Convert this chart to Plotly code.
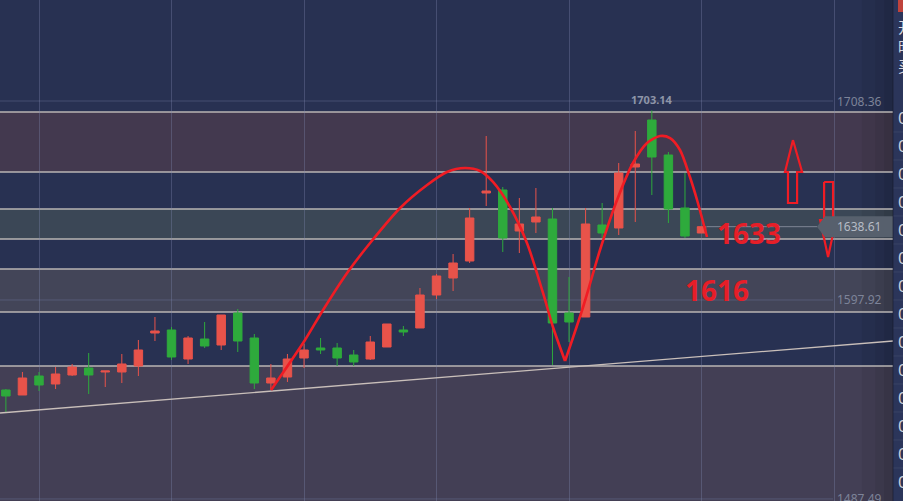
import plotly.graph_objects as go

# ---------------- data ----------------
candle_index = list(range(43))
open_ = [1547.97, 1545.19, 1555.74, 1551.30, 1556.29, 1560.18, 1557.96, 1557.96, 1561.29, 1579.60,
         1581.27, 1565.17, 1576.27, 1572.94, 1590.70, 1576.83, 1551.85, 1555.18, 1565.73, 1571.28,
         1571.28, 1567.39, 1565.17, 1571.83, 1581.27, 1582.38, 1600.69, 1610.13, 1619.56, 1657.30,
         1658.97, 1636.21, 1641.21, 1642.87, 1590.70, 1588.48, 1639.54, 1637.88, 1671.73, 1697.82,
         1678.39, 1648.98, 1635.10]
high = [1548.52, 1557.96, 1557.96, 1560.73, 1562.40, 1568.50, 1558.51, 1567.95, 1575.72, 1588.48,
        1582.93, 1577.94, 1585.71, 1589.59, 1592.92, 1579.05, 1562.40, 1567.95, 1573.50, 1576.83,
        1574.05, 1570.17, 1577.94, 1584.60, 1583.49, 1604.58, 1612.35, 1623.45, 1648.98, 1688.94,
        1660.63, 1654.53, 1660.08, 1648.98, 1610.68, 1648.98, 1651.75, 1673.95, 1691.71, 1703.14,
        1680.06, 1668.40, 1638.61]
low = [1535.20, 1545.19, 1547.41, 1548.52, 1555.74, 1545.75, 1549.63, 1551.85, 1555.74, 1575.16,
       1564.62, 1562.40, 1571.28, 1570.17, 1569.06, 1548.52, 1547.97, 1552.41, 1560.18, 1567.95,
       1561.29, 1561.29, 1564.62, 1571.83, 1577.94, 1582.38, 1598.47, 1602.91, 1618.45, 1650.09,
       1624.56, 1624.00, 1635.10, 1561.84, 1574.61, 1588.48, 1632.33, 1633.99, 1641.21, 1656.19,
       1640.65, 1632.33, 1635.10]
close = [1544.64, 1554.63, 1550.74, 1556.85, 1560.73, 1556.29, 1558.51, 1562.40, 1570.17, 1580.71,
         1566.28, 1576.83, 1572.39, 1589.59, 1575.16, 1551.85, 1554.63, 1565.17, 1570.17, 1570.17,
         1565.73, 1563.51, 1574.61, 1584.60, 1580.16, 1600.69, 1611.24, 1618.45, 1643.43, 1658.41,
         1632.33, 1640.10, 1643.98, 1585.15, 1585.71, 1640.10, 1635.10, 1668.40, 1673.40, 1677.28,
         1648.42, 1633.44, 1638.61]

# horizontal zone lines drawn on the chart
zone_levels = [1702.26, 1668.96, 1648.42, 1631.77, 1615.12, 1591.26, 1561.29]
# price-level markers with their labels
level_values = [1708.36, 1597.92, 1487.49]
level_labels = ["1708.36", "1597.92", "1487.49"]
last_price = 1638.61
last_label = "1638.61"
high_label = "1703.14"

# trend line (index, price)
trend_x = [-0.355, 53.56]
trend_y = [1535.20, 1575.16]

# hand-drawn red curves (index, price)
arch_x = [16.01, 16.55, 18.06, 19.15, 20.60, 21.99, 23.80, 25.43, 26.63, 27.72, 28.63, 29.41,
          30.44, 31.46, 32.43, 33.03, 33.76]
arch_y = [1547.97, 1555.18, 1575.72, 1592.37, 1612.90, 1629.55, 1648.98, 1661.74, 1668.96,
          1671.18, 1669.51, 1663.41, 1649.53, 1629.55, 1601.83, 1582.93, 1564.06]
hump_x = [33.76, 34.85, 35.87, 36.90, 37.86, 38.71, 39.49, 40.10, 40.70, 41.30, 41.73, 42.33]
hump_y = [1564.06, 1594.03, 1625.67, 1653.42, 1673.95, 1685.05, 1688.93, 1687.82, 1681.17,
          1666.18, 1653.42, 1632.88]

# hand-drawn arrows (outlines)
up_arrow_x = [47.52, 48.07, 47.77, 47.77, 47.22, 47.22, 47.04, 47.52]
up_arrow_y = [1686.72, 1668.96, 1668.96, 1651.75, 1651.75, 1668.96, 1668.96, 1686.72]
down_arrow_x = [49.40, 49.94, 49.94, 50.12, 49.64, 49.16, 49.40, 49.40]
down_arrow_y = [1663.41, 1663.41, 1642.32, 1642.32, 1621.78, 1642.32, 1642.32, 1663.41]

# hand-written target numbers
targets = ["1633", "1616"]
target_x = [44.87, 42.93]
target_y = [1635.10, 1603.47]

# clipped right-hand scale labels and side panel characters
side_values = [1698.93, 1683.39, 1667.85, 1652.31, 1636.77, 1621.23, 1605.69, 1590.15,
               1574.61, 1559.07, 1543.53, 1527.99, 1512.45, 1496.91]
side_text = "0.0"
panel_chars = ["开", "时", "买"]

# ---------------- styling ----------------
W, H = 903, 501
PLOT_R = 893 / 903
BG = "#283152"
RED = "#e8534a"
GREEN = "#2eaa3c"
PEN = "#f01c24"
YR = [1486.36, 1764.415]
XR = [-0.355, 53.56]

fig = go.Figure()

fig.add_trace(go.Candlestick(
    x=candle_index, open=open_, high=high, low=low, close=close,
    increasing=dict(line=dict(color=RED, width=1), fillcolor=RED),
    decreasing=dict(line=dict(color=GREEN, width=1), fillcolor=GREEN),
    whiskerwidth=0, showlegend=False, hoverinfo="skip"))

fig.add_trace(go.Scatter(x=trend_x, y=trend_y, mode="lines",
                         line=dict(color="#c9bfba", width=1.3), showlegend=False, hoverinfo="skip"))

for cx, cy in [(arch_x, arch_y), (hump_x, hump_y)]:
    fig.add_trace(go.Scatter(x=cx, y=cy, mode="lines", line=dict(color=PEN, width=2.6, shape="spline", smoothing=0.8),
                             showlegend=False, hoverinfo="skip"))

for ax_, ay_ in [(up_arrow_x, up_arrow_y), (down_arrow_x, down_arrow_y)]:
    fig.add_trace(go.Scatter(x=ax_, y=ay_, mode="lines", line=dict(color=PEN, width=2.2),
                             showlegend=False, hoverinfo="skip"))

shapes = []
band_colors = {0: "#43394f", 2: "#3b4756", 4: "#434558"}
for i, col in band_colors.items():
    shapes.append(dict(type="rect", xref="x domain", yref="y", x0=0, x1=1,
                       y0=zone_levels[i + 1], y1=zone_levels[i], fillcolor=col, line_width=0, layer="below"))
shapes.append(dict(type="rect", xref="x domain", yref="y", x0=0, x1=1,
                   y0=YR[0], y1=zone_levels[-1], fillcolor="#433f55", line_width=0, layer="below"))
# darker shading at the right edge of the chart
for x0, a in [(0.965, 0.05), (0.98, 0.05), (0.99, 0.06)]:
    shapes.append(dict(type="rect", xref="x domain", yref="y domain", x0=x0, x1=1, y0=0, y1=1,
                       fillcolor=f"rgba(0,0,0,{a})", line_width=0, layer="below"))
# faint level lines
for v in level_values:
    shapes.append(dict(type="line", xref="x domain", yref="y", x0=0, x1=833 / 893, y0=v, y1=v,
                       line=dict(color="rgba(120,132,175,0.35)", width=1), layer="below"))
# zone lines
for v in zone_levels:
    shapes.append(dict(type="line", xref="x domain", yref="y", x0=0, x1=1, y0=v, y1=v,
                       line=dict(color="#b9b5b3", width=1.5), layer="below"))
# current price line + label box
shapes.append(dict(type="line", xref="x", yref="y", x0=candle_index[-1] + 0.3, x1=48.98,
                   y0=last_price, y1=last_price, line=dict(color="#7e8594", width=1)))
shapes.append(dict(type="path", xref="paper", yref="y", xsizemode="pixel", ysizemode="pixel",
                   xanchor=PLOT_R, yanchor=last_price,
                   path="M0,-10.5 L-68,-10.5 L-76,0 L-68,10.5 L0,10.5 Z",
                   fillcolor="#57606d", line_width=0))
# side panel separators
for a, b in zip(side_values[:-1], side_values[1:]):
    m = (a + b) / 2
    shapes.append(dict(type="line", xref="paper", yref="y", x0=PLOT_R, x1=1, y0=m, y1=m,
                       line=dict(color="rgba(255,255,255,0.07)", width=1)))
shapes.append(dict(type="line", xref="paper", yref="paper", x0=PLOT_R, x1=PLOT_R, y0=0, y1=1,
                   line=dict(color="rgba(20,25,45,0.6)", width=1)))
# red marker at top right of side panel
shapes.append(dict(type="rect", xref="paper", yref="paper", x0=898 / 903, x1=1, y0=1 - 12 / 501, y1=1,
                   fillcolor="#c0433c", line_width=0))

annotations = []
for v, t in zip(level_values, level_labels):
    annotations.append(dict(xref="paper", yref="y", x=884 / 903, y=v, xanchor="right", yanchor="middle",
                            text=t, showarrow=False,
                            font=dict(family="Noto Sans", size=12, color="#7d8398")))
annotations.append(dict(xref="paper", yref="y", x=883 / 903, y=last_price, xanchor="right", yanchor="middle",
                        text=last_label, showarrow=False,
                        font=dict(family="Noto Sans", size=12, color="#b6bcc6")))
hi_i = high.index(max(high))
annotations.append(dict(xref="x", yref="y", x=candle_index[hi_i], y=high[hi_i], xanchor="center",
                        yanchor="bottom", yshift=1, text=high_label, showarrow=False,
                        font=dict(family="Noto Sans", size=11, color="#8e95a8", weight="bold")))
for t, tx, ty in zip(targets, target_x, target_y):
    annotations.append(dict(xref="x", yref="y", x=tx, y=ty, xanchor="center", yanchor="middle",
                            text=t, showarrow=False,
                            font=dict(family="Noto Sans", size=28, color="#e61e28", weight="bold")))
for v in side_values:
    annotations.append(dict(xref="paper", yref="y", x=896 / 903, y=v, xanchor="left", yanchor="middle",
                            text=side_text, showarrow=False,
                            font=dict(family="Noto Sans", size=17, color="#c9cdd8")))
for k, ch in enumerate(panel_chars):
    annotations.append(dict(xref="paper", yref="paper", x=896 / 903, y=1 - (27 + 19 * k) / 501,
                            xanchor="left", yanchor="middle", text=ch, showarrow=False,
                            font=dict(family="Noto Sans CJK SC", size=15, color="#d6d8e0")))

fig.update_layout(
    width=W, height=H, autosize=False,
    margin=dict(l=0, r=0, t=0, b=0, pad=0),
    paper_bgcolor="#2b355a", plot_bgcolor=BG,
    boxgap=0.49, boxgroupgap=0,
    shapes=shapes, annotations=annotations,
    showlegend=False, hovermode=False,
    xaxis=dict(domain=[0, PLOT_R], range=XR, rangeslider=dict(visible=False),
               tickvals=[2, 10, 18, 26, 34, 42, 50], showticklabels=False, ticks="",
               showgrid=True, gridcolor="rgba(125,135,175,0.35)", gridwidth=1,
               zeroline=False, showline=False),
    yaxis=dict(range=YR, showgrid=False, showticklabels=False, ticks="", zeroline=False, showline=False),
)

fig.write_html("out.html")
